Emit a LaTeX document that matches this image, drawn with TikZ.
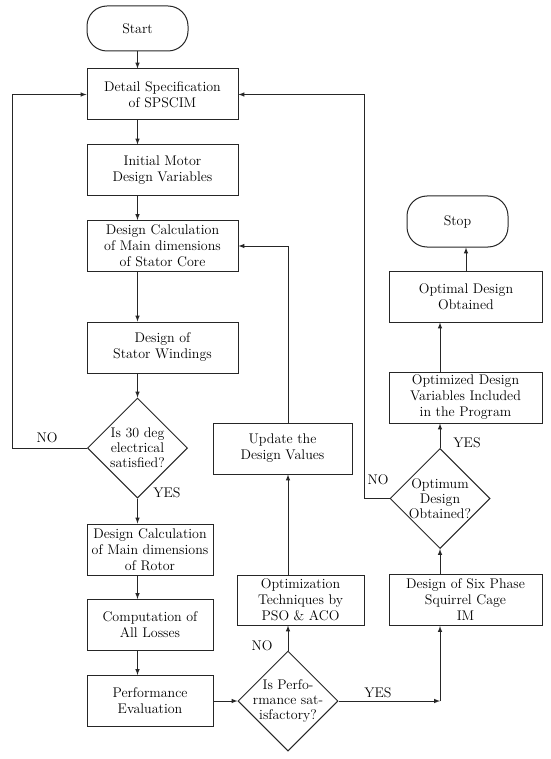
\documentclass[tikz,border=0pt]{standalone}
\usepackage{tikz}
\usetikzlibrary{shapes.geometric}

\begin{document}
\begin{tikzpicture}[x=1pt,y=-1pt,
    every node/.style={font=\fontsize{14}{16}\selectfont,align=center},
    box/.style={draw=black!85,rectangle,line width=1pt,inner sep=0pt,minimum height=51pt},
    terminal/.style={draw=black!85,rectangle,rounded corners=20pt,line width=1pt,inner sep=0pt,minimum width=101pt},
    decision/.style={draw=black!85,diamond,line width=1pt,inner sep=-6pt,minimum width=100pt,minimum height=100pt,font=\fontsize{14}{15}\selectfont},
    flow/.style={draw=black!85,line width=1pt,-latex}]
  \useasboundingbox (0,0) rectangle (550,759);

  % main column
  \node[terminal,minimum height=45pt] (start) at (137.5,28.5) {Start};
  \node[box,minimum width=151pt] (spec) at (162.5,94.5) {Detail Specification\\of SPSCIM};
  \node[box,minimum width=151pt] (init) at (162.5,170.5) {Initial Motor\\Design Variables};
  \node[box,minimum width=151pt] (core) at (162.5,246) {Design Calculation\\of Main dimensions\\of Stator Core};
  \node[box,minimum width=151pt] (wind) at (162.5,347.5) {Design of\\Stator Windings};
  \node[decision] (chk) at (137.5,448) {Is 30 deg\\electrical\\satisfied?};
  \node[box,minimum width=126pt] (rotor) at (150,549.5) {Design Calculation\\of Main dimensions\\of Rotor};
  \node[box,minimum width=126pt] (loss) at (150,625) {Computation of\\All Losses};
  \node[box,minimum width=126pt] (perf) at (150,701) {Performance\\Evaluation};

  % middle column
  \node[decision] (perfok) at (288,701) {Is Perfo-\\rmance sat-\\isfactory?};
  \node[box,minimum width=127pt,minimum height=50pt] (optim) at (300.5,600) {Optimization\\Techniques by\\PSO \& ACO};
  \node[box,minimum width=139pt] (upd) at (282.5,448.5) {Update the\\Design Values};

  % right column
  \node[box,minimum width=153pt] (six) at (465.5,600) {Design of Six Phase\\Squirrel Cage\\IM};
  \node[decision] (optok) at (440,498.5) {Optimum\\Design\\Obtained?};
  \node[box,minimum width=153pt] (incl) at (465.5,397.5) {Optimized Design\\Variables Included\\in the Program};
  \node[box,minimum width=153pt] (best) at (466,296.5) {Optimal Design\\Obtained};
  \node[terminal,minimum height=51pt] (stop) at (457.5,221.5) {Stop};

  % labels
  \node (no1) at (47,438) {NO};
  \node (yes1) at (167,493) {YES};
  \node (no2) at (262,646) {NO};
  \node (yes2) at (378,693) {YES};
  \node (no3) at (378,480) {NO};
  \node (yes3) at (467,443) {YES};

  \coordinate (lft) at (12,94.5);
  \coordinate (rgt) at (364,94.5);
  \coordinate (corner) at (440,701);

  \draw[flow] (start) -- (spec.north -| start);
  \draw[flow] (spec.south -| start) -- (init.north -| start);
  \draw[flow] (init.south -| start) -- (core.north -| start);
  \draw[flow] (core.south -| start) -- (wind.north -| start);
  \draw[flow] (wind.south -| chk) -- (chk.north);
  \draw[flow] (chk.south) -- (rotor.north -| chk);
  \draw[flow] (rotor.south -| chk) -- (loss.north -| chk);
  \draw[flow] (loss.south -| chk) -- (perf.north -| chk);
  \draw[flow] (chk.west) -| (lft) -- (spec.west);

  \draw[flow] (perf.east) -- (perfok.west);
  \draw[flow] (perfok.north) -- (optim.south -| perfok);
  \draw[flow] (optim.north -| perfok) -- (upd.south -| perfok);
  \draw[flow] (upd.north -| perfok) |- (core.east);

  \draw[flow] (perfok.east) -- (corner);
  \draw[flow] (corner) -- (six.south -| optok);
  \draw[flow] (six.north -| optok) -- (optok.south);
  \draw[flow] (optok.north) -- (incl.south -| optok);
  \draw[flow] (incl.north -| optok) -- (best.south -| optok);
  \draw[flow] (best.north) -- (best.north |- stop.south);
  \draw[flow] (optok.west) -| (rgt) -- (spec.east);
\end{tikzpicture}
\end{document}
